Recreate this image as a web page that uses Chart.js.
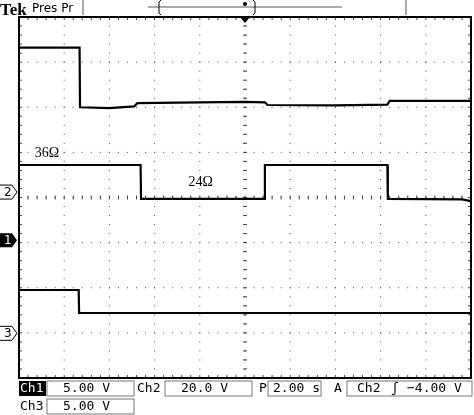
<!DOCTYPE html>
<html><head><meta charset="utf-8">
<script src="https://cdn.jsdelivr.net/npm/chart.js@4"></script>
<style>html,body{margin:0;padding:0;background:#fff}#c{display:block}</style>
</head><body>
<canvas id="c" width="474" height="415"></canvas>
<script>
// traces in screen divisions (x: 0..10, y: 0..8 from bottom)
const ch1 = [
  {x:0,y:7.32},{x:1.34,y:7.32},{x:1.35,y:6.0},{x:2.0,y:5.98},{x:2.55,y:6.02},
  {x:2.62,y:6.09},{x:4.0,y:6.11},{x:5.0,y:6.12},{x:5.44,y:6.11},{x:5.5,y:6.05},
  {x:7.0,y:6.04},{x:8.15,y:6.06},{x:8.2,y:6.14},{x:10,y:6.14}];
const ch2 = [
  {x:0,y:4.72},{x:2.69,y:4.72},{x:2.70,y:3.97},{x:5.43,y:3.97},{x:5.44,y:4.72},
  {x:8.15,y:4.72},{x:8.16,y:3.97},{x:9.8,y:3.96},{x:10,y:3.92}];
const ch3 = [
  {x:0,y:1.95},{x:1.32,y:1.95},{x:1.33,y:1.44},{x:10,y:1.44}];
const loadLabels = [{text:"36Ω",x:0.35,y:4.9},{text:"24Ω",x:3.75,y:4.25}];
const markers = [{text:"2",y:4.12},{text:"1",y:3.05},{text:"3",y:0.99}];
const statusRow1 = ["Ch1","5.00 V","Ch2","20.0 V","P","2.00 s","A","Ch2","−4.00 V"];
const statusRow2 = ["Ch3","5.00 V"];

const trace = (d) => ({data:d, borderColor:"#000", borderWidth:2.2, pointRadius:0, tension:0});

const scopePlugin = {
  id:"scope",
  beforeDatasetsDraw(chart){
    const {ctx, chartArea:a, scales:{x,y}} = chart;
    ctx.save();
    ctx.fillStyle="#444";
    // dotted grid: a dot every 1/5 division on each grid line
    for(let i=1;i<10;i++) for(let j=0;j<=40;j++) ctx.fillRect(x.getPixelForValue(i)-0.5,y.getPixelForValue(j/5)-0.5,1,1);
    for(let j=1;j<8;j++) for(let i=0;i<=50;i++) ctx.fillRect(x.getPixelForValue(i/5)-0.5,y.getPixelForValue(j)-0.5,1,1);
    // minor ticks on center axes and border
    const cx=x.getPixelForValue(5), cy=y.getPixelForValue(4);
    ctx.strokeStyle="#444"; ctx.lineWidth=1; ctx.beginPath();
    for(let i=0;i<=50;i++){const px=x.getPixelForValue(i/5);
      ctx.moveTo(px,cy-2);ctx.lineTo(px,cy+2);ctx.moveTo(px,a.top);ctx.lineTo(px,a.top+3);ctx.moveTo(px,a.bottom);ctx.lineTo(px,a.bottom-3);}
    for(let j=0;j<=40;j++){const py=y.getPixelForValue(j/5);
      ctx.moveTo(cx-2,py);ctx.lineTo(cx+2,py);ctx.moveTo(a.left,py);ctx.lineTo(a.left+3,py);ctx.moveTo(a.right,py);ctx.lineTo(a.right-3,py);}
    ctx.stroke();
    ctx.restore();
  },
  afterDraw(chart){
    const {ctx, chartArea:a, scales:{x,y}} = chart;
    ctx.save();
    ctx.strokeStyle="#000"; ctx.lineWidth=2; ctx.strokeRect(a.left,a.top,a.right-a.left,a.bottom-a.top);
    // trigger marker
    const cx=x.getPixelForValue(5);
    ctx.fillStyle="#000"; ctx.beginPath(); ctx.moveTo(cx-5,a.top);ctx.lineTo(cx+5,a.top);ctx.lineTo(cx,a.top+6);ctx.fill();
    // header
    ctx.font="bold 17px 'Liberation Serif'"; ctx.textBaseline="alphabetic"; ctx.fillText("Tek",0,15);
    ctx.font="12px 'DejaVu Sans'"; ctx.fillText("Pres Pr",32,12);
    ctx.lineWidth=1; ctx.strokeStyle="#555";
    ctx.beginPath(); ctx.moveTo(83,0);ctx.lineTo(83,15); ctx.moveTo(406,0);ctx.lineTo(406,15);
    ctx.moveTo(148,7);ctx.lineTo(342,7); ctx.stroke();
    ctx.strokeStyle="#000";
    ctx.beginPath(); ctx.moveTo(161,0);ctx.lineTo(159,2);ctx.lineTo(159,13);ctx.lineTo(161,15);
    ctx.moveTo(253,0);ctx.lineTo(255,2);ctx.lineTo(255,13);ctx.lineTo(253,15); ctx.stroke();
    ctx.beginPath(); ctx.arc(245,4,2,0,7); ctx.fill();
    // load labels
    ctx.font="14px 'Liberation Serif'";
    loadLabels.forEach(l=>ctx.fillText(l.text,x.getPixelForValue(l.x),y.getPixelForValue(l.y)));
    // channel markers
    ctx.font="12px 'DejaVu Sans'"; ctx.textBaseline="middle";
    markers.forEach((m,i)=>{const py=y.getPixelForValue(m.y);
      if(m.text==="1"){ctx.fillStyle="#000";ctx.beginPath();ctx.moveTo(0,py-7);ctx.lineTo(12,py-7);ctx.lineTo(17,py);ctx.lineTo(12,py+7);ctx.lineTo(0,py+7);ctx.fill();
        ctx.fillStyle="#fff";ctx.fillText("1",4,py+1);ctx.fillStyle="#000";}
      else{ctx.strokeStyle="#000";ctx.lineWidth=1;ctx.beginPath();ctx.moveTo(0,py-7);ctx.lineTo(12,py-7);ctx.lineTo(17,py);ctx.lineTo(12,py+7);ctx.lineTo(0,py+7);ctx.stroke();
        ctx.fillText(m.text,4,py+1);}
    });
    // status bar
    const r1=381,r2=399;
    ctx.fillStyle="#000"; ctx.fillRect(19,r1,27,15);
    ctx.font="13px 'DejaVu Sans Mono'"; ctx.textBaseline="middle";
    ctx.fillStyle="#fff"; ctx.fillText(statusRow1[0],20,r1+8);
    ctx.fillStyle="#000";
    ctx.lineWidth=1; ctx.strokeStyle="#777";
    ctx.strokeRect(47,r1,87,15); ctx.fillText(statusRow1[1],63,r1+8);
    ctx.fillText(statusRow1[2],137,r1+8);
    ctx.strokeRect(165,r1,87,15); ctx.fillText(statusRow1[3],181,r1+8);
    ctx.fillText(statusRow1[4],259,r1+8);
    ctx.strokeRect(268,r1,53,15); ctx.fillText(statusRow1[5],273,r1+8);
    ctx.fillText(statusRow1[6],334,r1+8);
    ctx.strokeRect(347,r1,125,15); ctx.fillText(statusRow1[7],357,r1+8);
    ctx.fillText("ʃ",391,r1+8); ctx.fillText(statusRow1[8],407,r1+8);
    ctx.fillText(statusRow2[0],20,r2+8);
    ctx.strokeRect(47,r2,87,15); ctx.fillText(statusRow2[1],63,r2+8);
    ctx.restore();
  }
};

new Chart(document.getElementById("c"), {
  type:"line",
  data:{datasets:[trace(ch1),trace(ch2),trace(ch3)]},
  options:{
    responsive:false, animation:false, parsing:false,
    layout:{padding:{left:19,right:3,top:17,bottom:37}},
    plugins:{legend:{display:false},tooltip:{enabled:false}},
    scales:{
      x:{type:"linear",min:0,max:10,display:false},
      y:{type:"linear",min:0,max:8,display:false}
    }
  },
  plugins:[scopePlugin]
});
</script>
</body></html>
